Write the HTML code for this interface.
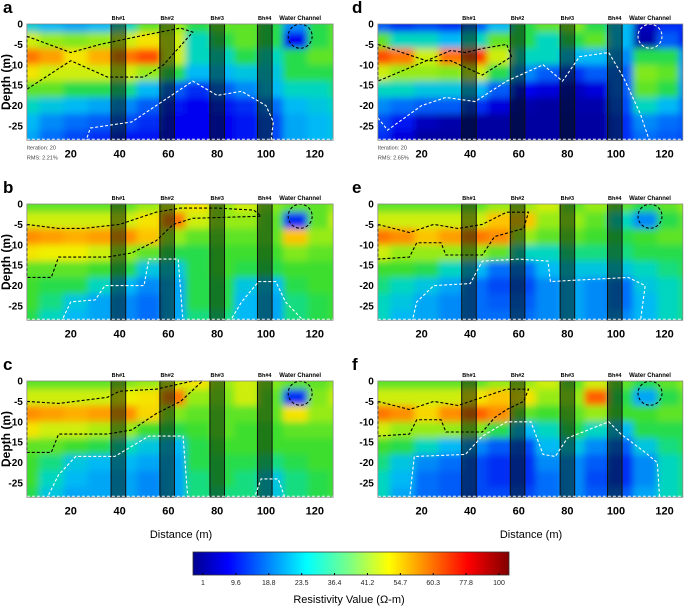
<!DOCTYPE html>
<html><head><meta charset="utf-8">
<style>
html,body{margin:0;padding:0;background:#fff;}
svg{display:block;font-family:"Liberation Sans",sans-serif;}
</style></head>
<body>
<svg id="fig" width="685" height="609" viewBox="0 0 685 609" xmlns="http://www.w3.org/2000/svg">
<defs>
<filter id="blur" x="-10%" y="-10%" width="120%" height="120%"><feGaussianBlur stdDeviation="3.5"/></filter>
<linearGradient id="jet" x1="0" x2="1" y1="0" y2="0">
<stop offset="0" stop-color="#00008f"/><stop offset="0.11" stop-color="#0000ff"/><stop offset="0.36" stop-color="#00ffff"/><stop offset="0.5" stop-color="#80ff80"/><stop offset="0.62" stop-color="#ffff00"/><stop offset="0.87" stop-color="#ff0000"/><stop offset="1" stop-color="#800000"/>
</linearGradient>
</defs>
</svg>
<script>
const cols=[2,12,22,32,42,52,62,72,82,92,102,112,122,130];
const depths=[0,4,8,12,16,20,24,28];
const depthTicks=[0,-5,-10,-15,-20,-25];
const distTicks=[20,40,60,80,100,120];
const boreholes=[["Bh#1",36.5,42.5],["Bh#2",56.5,62.5],["Bh#3",77,83],["Bh#4",96.5,102.5]];
const cbLabels=["1","9.6","18.8","23.5","36.4","41.2","54.7","60.3","77.8","100"];
const valsA=[[33,30,28,30,35,45,50,40,45,45,40,25,40,45],[55,50,48,50,55,60,55,35,40,45,40,10,40,45],[75,70,60,68,75,80,55,35,35,40,35,40,45,45],[60,55,55,55,55,50,40,30,30,32,32,40,40,40],[45,45,40,40,38,30,20,15,20,25,30,35,35,38],[35,32,30,28,25,20,12,10,12,15,22,30,32,35],[30,25,22,20,18,15,10,10,10,12,18,28,30,32],[28,22,18,15,12,12,10,10,10,12,18,28,30,32]];
const valsB=[[45,45,45,45,45,50,55,60,50,55,48,45,45,50],[55,55,55,55,55,60,75,55,50,50,45,15,45,55],[72,70,68,70,72,65,50,45,45,45,45,65,50,50],[60,58,58,55,50,45,40,40,42,42,42,48,45,45],[45,45,45,42,40,32,32,40,42,40,40,42,42,42],[42,40,40,35,30,25,28,40,40,32,30,40,42,42],[42,38,32,28,25,22,28,40,40,30,28,38,40,42],[40,35,30,28,25,22,28,38,38,30,28,38,40,42]];
const valsC=[[45,45,45,45,48,50,55,60,50,55,48,45,45,50],[55,55,55,55,58,60,75,50,48,55,45,15,48,55],[72,70,68,70,72,62,48,45,45,45,45,60,50,50],[60,55,55,52,50,42,40,42,45,42,42,45,45,45],[45,45,42,40,36,32,30,40,42,42,42,42,42,42],[42,38,32,30,30,28,28,40,40,40,38,40,42,42],[42,35,30,28,28,25,28,38,40,38,32,38,40,42],[40,32,28,28,28,25,28,38,38,38,32,38,40,42]];
const valsD=[[20,15,18,15,20,30,40,45,48,40,30,5,15,15],[45,35,35,30,35,45,40,35,40,45,30,3,20,10],[80,75,55,75,82,55,35,35,30,30,25,40,40,25],[55,50,50,48,55,40,25,20,15,20,20,48,45,25],[35,35,32,32,30,20,10,8,5,8,20,45,40,25],[25,22,20,20,15,8,3,2,3,3,18,35,30,22],[18,12,5,3,2,2,2,2,2,2,15,25,22,20],[15,8,2,2,2,2,2,2,2,2,15,22,20,18]];
const valsE=[[45,45,45,45,45,50,50,55,45,50,45,40,45,50],[55,55,55,55,55,65,65,50,50,45,35,25,40,45],[75,72,65,70,75,72,50,45,45,42,40,42,45,45],[55,50,50,50,50,45,35,35,38,38,38,40,40,40],[42,42,40,35,30,22,22,30,32,32,32,35,38,40],[38,35,32,28,22,18,18,25,28,25,22,32,35,38],[35,32,28,25,22,20,20,25,28,25,22,30,35,38],[35,30,28,25,22,22,22,25,28,25,25,30,35,38]];
const valsF=[[45,45,45,45,45,50,50,55,45,55,45,40,45,50],[55,55,55,55,60,65,60,50,50,78,40,28,40,45],[75,72,62,72,78,72,45,42,45,50,42,42,45,45],[55,50,50,50,48,40,30,35,40,35,30,40,40,40],[42,40,35,30,25,20,18,30,32,25,20,32,38,40],[38,32,25,22,18,15,15,25,25,20,15,25,35,38],[35,30,22,20,18,15,15,22,25,18,15,25,35,38],[35,28,22,20,18,18,18,22,25,20,20,28,35,38]];
const blackA=[[2,3],[20,7],[32,5],[40,4],[48,3],[65,1],[70,2],[58,10],[50,13],[35,13],[20,9],[2,16]];
const whiteA=[[26,29],[28,25.5],[45,24],[60,18],[70,14],[80,17.5],[90,16.5],[100,20],[103,24],[102,29]];
const blackB=[[2,5],[15,6],[25,6],[40,5],[55,2],[65,1],[80,1],[95,1.5],[98,3],[70,3.5],[62,5],[55,9],[45,12],[35,13],[15,13],[12,18],[2,18]];
const whiteB=[[16,29],[20,24],[30,23.5],[34,20],[50,20],[52,13.5],[64,13.5],[66,29]];
const whiteB2=[[85,29],[90,24],[97,19],[104,19],[108,24],[116,29]];
const blackC=[[2,5],[15,5.5],[35,4],[40,2.5],[55,2],[70,0],[74,0],[65,5],[55,8],[45,12],[35,13],[15,13],[12,17.5],[2,17.5]];
const whiteC=[[10,29],[15,23],[22,18.5],[38,18.5],[45,16],[52,13.5],[66,13.5],[68,29]];
const whiteC2=[[95,29],[98,24],[105,24],[108,29]];
const blackD=[[2,5],[22,9],[32,6.5],[38,7],[45,6],[55,5],[57,8],[45,12.5],[32,9],[22,9],[2,14]];
const whiteD=[[2,23],[6,26],[20,20],[30,18],[42,19],[55,14],[70,10],[78,14],[85,8],[97,7],[103,13],[110,22],[114,29]];
const blackE=[[2,5],[15,7],[25,5],[35,6],[45,5],[55,2],[64,2],[62,6],[50,8],[45,12.5],[30,12.5],[28,9.5],[18,9.5],[15,13],[2,13.5]];
const whiteE=[[16,29],[18,24],[25,20],[40,19.5],[45,14],[60,13.5],[72,14],[73,19],[105,18],[112,20],[110,29]];
const blackF=[[2,5],[15,7],[25,5],[35,6],[45,4],[55,2],[64,2],[62,5],[55,7],[50,9],[45,12.5],[30,12.5],[28,9.5],[18,9.5],[15,13],[2,13.5]];
const whiteF=[[15,29],[17,18.5],[38,18],[45,13.5],[55,10],[65,10],[70,18],[75,18.5],[80,14],[97,10],[102,13],[112,17.5],[117,20],[118,29]];

const NS="http://www.w3.org/2000/svg";
const svg=document.getElementById('fig');
function mk(tag,attrs,parent){const e=document.createElementNS(NS,tag);for(const k in attrs)e.setAttribute(k,attrs[k]);(parent||svg).appendChild(e);return e;}
function jet(v){const t=Math.max(0,Math.min(1,v/100));
const st=[[0,[0,0,140]],[0.1,[0,0,240]],[0.22,[0,110,250]],[0.3,[0,185,245]],[0.36,[0,220,180]],[0.41,[50,220,50]],[0.5,[150,235,20]],[0.58,[240,240,0]],[0.66,[255,190,0]],[0.76,[255,110,0]],[0.87,[255,20,0]],[1,[128,0,0]]];
for(let i=1;i<st.length;i++){if(t<=st[i][0]){const a=st[i-1],b=st[i];const f=(t-a[0])/(b[0]-a[0]);return 'rgb('+a[1].map((c,j)=>Math.round(c+(b[1][j]-c)*f)).join(',')+')';}}return 'rgb(128,0,0)';}

const panels=[
{id:'a',ox:22,kx:2.44,top:24,vals:valsA,black:[blackA],white:[whiteA],iter:'RMS: 2.21%',depthLabel:true,circ:'#000'},
{id:'b',ox:22,kx:2.44,top:204,vals:valsB,black:[blackB],white:[whiteB,whiteB2],depthLabel:true,circ:'#000'},
{id:'c',ox:22,kx:2.44,top:381,vals:valsC,black:[blackC],white:[whiteC,whiteC2],depthLabel:true,circ:'#000'},
{id:'d',ox:373,kx:2.43,top:24,vals:valsD,black:[blackD],white:[whiteD],iter:'RMS: 2.65%',depthLabel:false,circ:'#ffe'},
{id:'e',ox:373,kx:2.43,top:204,vals:valsE,black:[blackE],white:[whiteE],depthLabel:false,circ:'#000'},
{id:'f',ox:373,kx:2.43,top:381,vals:valsF,black:[blackF],white:[whiteF],depthLabel:false,circ:'#000'}];
const ky=4.08, mMin=2, mMax=127.5, dMax=28.5;

panels.forEach(p=>{
  const X=m=>p.ox+p.kx*m, Y=d=>p.top+ky*d;
  const g=mk('g',{});
  
  
  const lt=mk('text',{x:X(0)-(p.id>'c'?21:19),y:p.top-11,'font-size':17,'font-weight':'bold'},g);lt.textContent=p.id;
  
  
  const cid='clip'+p.id;
  const cp=mk('clipPath',{id:cid},g);mk('rect',{x:X(mMin),y:Y(0),width:X(mMax)-X(mMin),height:ky*dMax},cp);
  const hm=mk('g',{'clip-path':'url(#'+cid+')'},g);
  
  
  const bl=mk('g',{filter:'url(#blur)'},hm);
  p.vals.forEach((row,ri)=>row.forEach((v,ci)=>{
    const m0=ci===0?-15:(cols[ci-1]+cols[ci])/2, m1=ci===cols.length-1?150:(cols[ci]+cols[ci+1])/2;
    const d0=ri===0?-6:(depths[ri-1]+depths[ri])/2, d1=ri===depths.length-1?40:(depths[ri]+depths[ri+1])/2;
    const r=mk('rect',{x:X(m0),y:Y(d0),width:X(m1)-X(m0)+0.5,height:Y(d1)-Y(d0)+0.5,fill:jet(v)},bl);
    
    
  }));
  boreholes.forEach(b=>{
    const r=mk('rect',{x:X(b[1]),y:Y(0),width:X(b[2])-X(b[1]),height:ky*dMax,fill:'rgba(0,20,0,0.5)',stroke:'#111','stroke-width':1},g);
    
    
    const t=mk('text',{x:(X(b[1])+X(b[2]))/2,y:p.top-4,'font-size':5.5,'font-weight':'bold','text-anchor':'middle'},g);t.textContent=b[0];
    
    
  });
  const wc=mk('text',{x:X(114),y:p.top-4,'font-size':6,'font-weight':'bold','text-anchor':'middle'},g);wc.textContent='Water Channel';
  
  
  const ci=mk('ellipse',{cx:X(114),cy:Y(3),rx:12,ry:12,fill:'none',stroke:p.circ,'stroke-width':1,'stroke-dasharray':'3,2'},g);
  
  
  const line=(pts,col)=>{const pl=mk('polyline',{points:pts.map(q=>X(q[0])+','+Y(q[1])).join(' '),fill:'none',stroke:col,'stroke-width':1.1,'stroke-dasharray':'3,2'},g);
    if(pts[0][1]<29&&pts[pts.length-1][1]<29&&col==='#000')pl.setAttribute('points',pl.getAttribute('points')+' '+X(pts[0][0])+','+Y(pts[0][1]));
    return pl;};
  p.black.forEach(c=>{const l=line(c,'#000');});
  p.white.forEach(c=>{const l=line(c,'#fff');});
  const bot=mk('line',{x1:X(mMin),x2:X(mMax),y1:Y(dMax)-1,y2:Y(dMax)-1,stroke:'#fff','stroke-width':1,'stroke-dasharray':'3,2'},g);
  
  const fr=mk('rect',{x:X(mMin),y:Y(0),width:X(mMax)-X(mMin),height:ky*dMax,fill:'none',stroke:'#888','stroke-width':0.8},g);
  
  depthTicks.forEach(d=>{const t=mk('text',{x:X(mMin)-4,y:Y(-d)+3.5,'font-size':10,'font-weight':'bold','text-anchor':'end'},g);t.textContent=d;
    });
  distTicks.forEach(m=>{const t=mk('text',{x:X(m),y:Y(dMax)+17,'font-size':11,'font-weight':'bold','text-anchor':'middle'},g);t.textContent=m;
    });
  if(p.depthLabel){const t=mk('text',{x:0,y:0,'font-size':12,'font-weight':'bold','text-anchor':'middle',transform:'translate(10,'+(p.top+58)+') rotate(-90)'},g);t.textContent='Depth (m)';
    }
  if(p.iter){const t1=mk('text',{x:X(mMin),y:Y(dMax)+9,'font-size':5.5,fill:'#444'},g);t1.textContent='Iteration: 20';
    
    const t2=mk('text',{x:X(mMin),y:Y(dMax)+19,'font-size':5.5,fill:'#444'},g);t2.textContent=p.iter;
    }
});
[[181,'distance-axis-title-left'],[531,'distance-axis-title-right']].forEach(q=>{const t=mk('text',{x:q[0],y:538,'font-size':11,'text-anchor':'middle'});t.textContent='Distance (m)';
  });
const cb=mk('rect',{x:193,y:552,width:316,height:23,fill:'url(#jet)',stroke:'#333','stroke-width':0.8});

cbLabels.forEach((l,i)=>{const x=203+i*(296/(cbLabels.length-1));
  const tk=mk('line',{x1:x,x2:x,y1:573,y2:575,stroke:'#000'});
  const t=mk('text',{x:x,y:585,'font-size':7,'text-anchor':'middle',fill:'#222'});t.textContent=l;
  });
const ct=mk('text',{x:349,y:603,'font-size':11,'text-anchor':'middle'});ct.textContent='Resistivity Value (Ω-m)';

</script>
</body></html>
